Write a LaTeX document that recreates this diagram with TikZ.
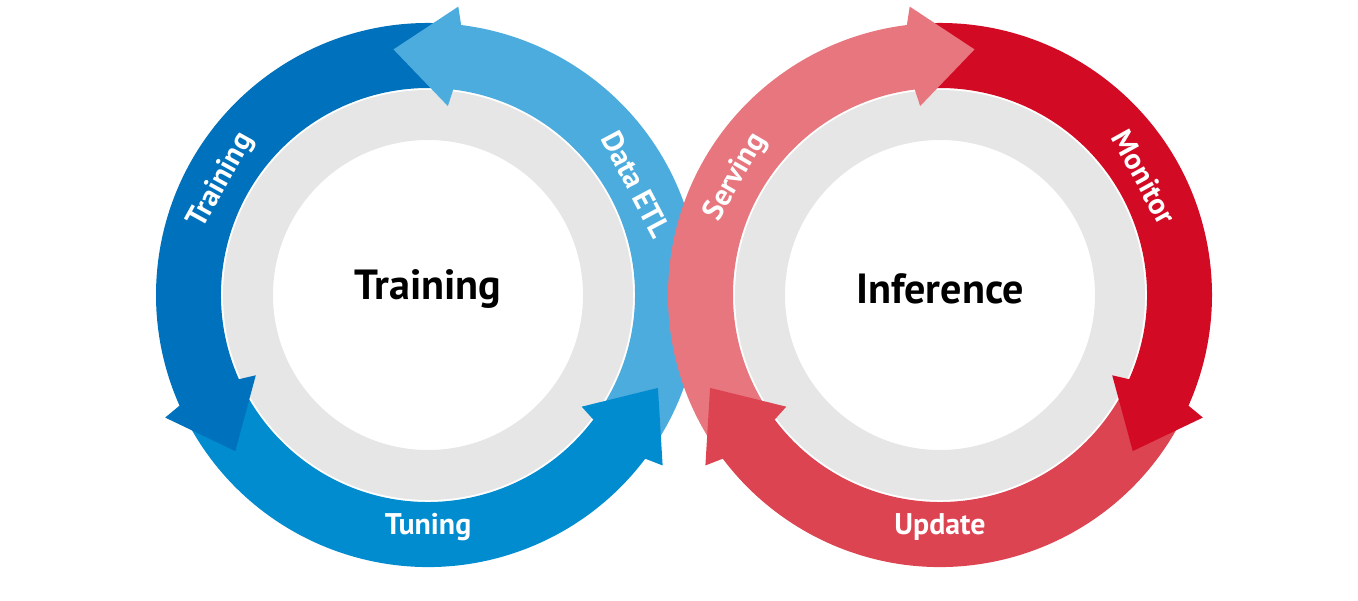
\documentclass[tikz,border=0pt]{standalone}
\usepackage{fontspec}
\setmainfont{PT Sans}
\usetikzlibrary{calc}
\definecolor{trainblue}{HTML}{0071BC}
\definecolor{tuneblue}{HTML}{008CCF}
\definecolor{etlblue}{HTML}{4DACDE}
\definecolor{monred}{HTML}{D20A24}
\definecolor{updred}{HTML}{DC4451}
\definecolor{servred}{HTML}{E8767E}
\definecolor{ringgray}{HTML}{E6E6E6}
\tikzset{%
    ring/.style={draw=ringgray, line width=50*0.02cm},
    steplabel/.style={text=white, font=\bfseries\fontsize{17}{17}\selectfont},
    cyclelabel/.style={text=black, font=\bfseries\fontsize{24}{24}\selectfont}
}

\begin{document}
\begin{tikzpicture}[x=0.02cm,y=0.02cm]
\useasboundingbox (0,0) rectangle (1358,600);
\coordinate (L) at (428,305);
\coordinate (R) at (940,305);

% gray rings
\draw[ring] (L) circle (180);
\draw[ring] (R) circle (180);

% arrow bodies: centre/start/end/colour
\foreach \c/\a/\b/\col in {L/84/205/trainblue, L/205/324/tuneblue, L/-36/84/etlblue,
                           R/96/-25/monred, R/-25/-144/updred, R/216/96/servred}
  \fill[\col] ($(\c)+(\a:272)$) arc[start angle=\a, end angle=\b, radius=272]
     -- ($(\c)+(\b:207)$) arc[start angle=\b, end angle=\a, radius=207] -- cycle;

% arrow heads: centre/base/tip/back/colour
\foreach \c/\b/\t/\k/\col in {L/205/219/204/trainblue, L/324/338/323/tuneblue, L/84/98/83/etlblue,
                           R/-25/-39/-24/monred, R/-144/-158/-143/updred, R/96/82/97/servred}
  \fill[\col] ($(\c)+(\b:290)$) -- ($(\c)+(\t:248)$) -- ($(\c)+(\b:190)$)
     -- ($(\c)+(\k:207)$) -- ($(\c)+(\k:272)$) -- cycle;

% labels
\node[cyclelabel] (trainc) at ($(L)+(0,6)$) {Training};
\node[cyclelabel] (infc) at ($(R)+(0,6)$) {Inference};

\node[steplabel, rotate=61] (train) at ($(L)+(151:236)$) {Training};
\node[steplabel, rotate=-62] (etl) at ($(L)+(28:236)$) {Data ETL};
\node[steplabel] (tune) at ($(L)+(270:232)$) {Tuning};
\node[steplabel, rotate=60] (serv) at ($(R)+(150:236)$) {Serving};
\node[steplabel, rotate=-61] (mon) at ($(R)+(30:236)$) {Monitor};
\node[steplabel] (upd) at ($(R)+(270:232)$) {Update};
\end{tikzpicture}
\end{document}
